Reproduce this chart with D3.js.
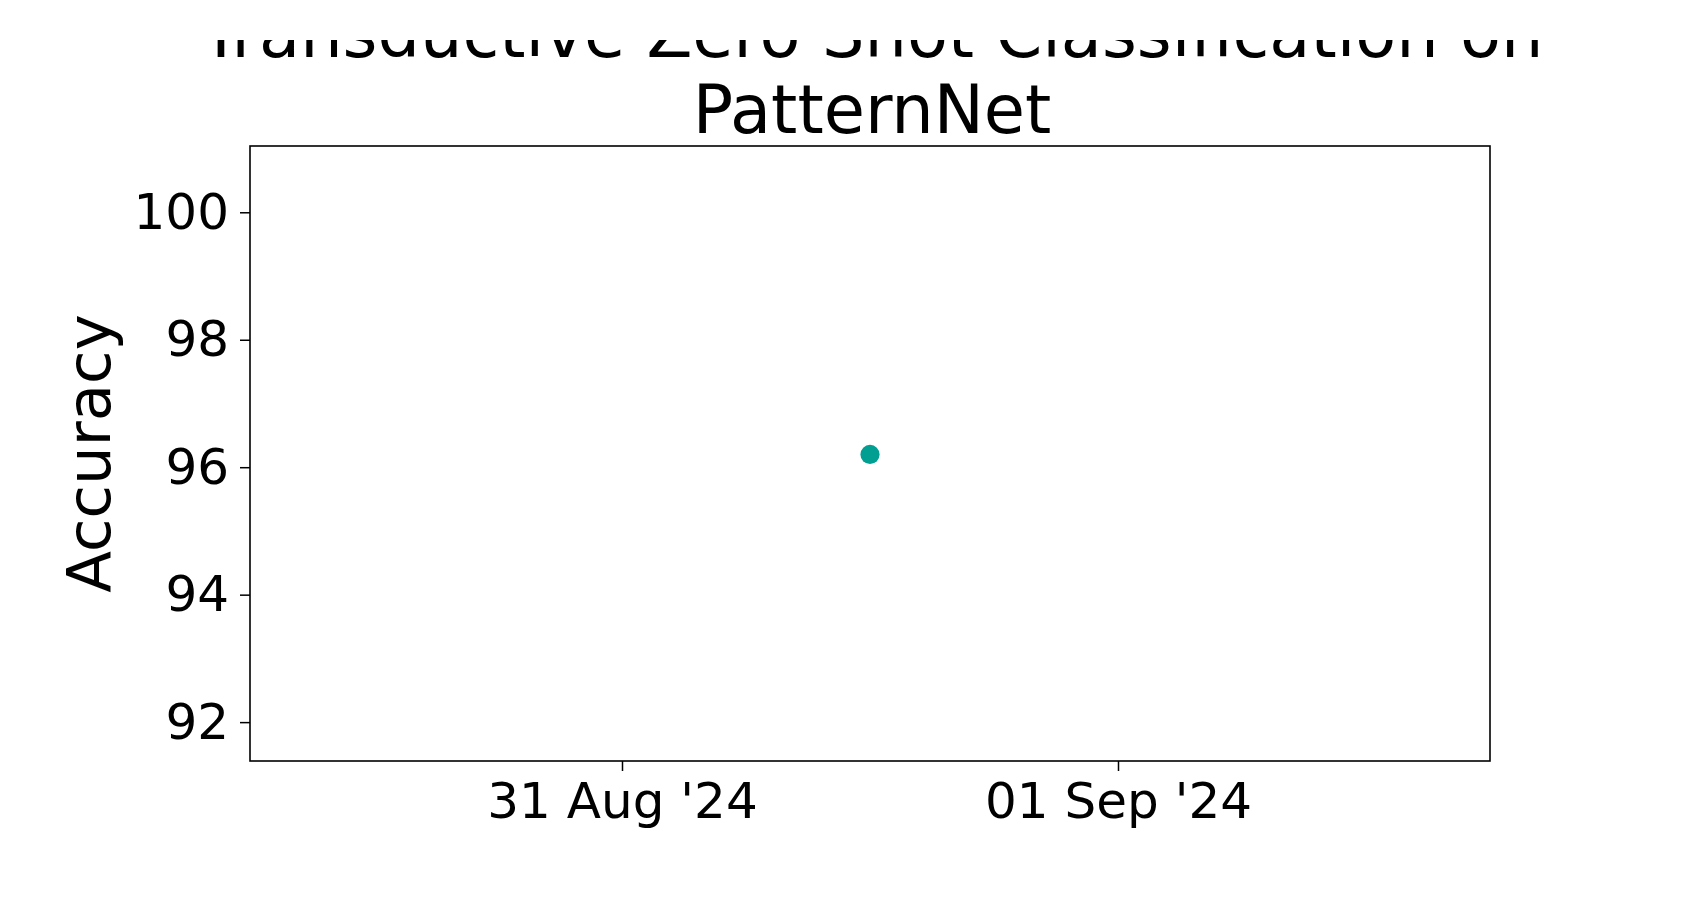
<!DOCTYPE html>
<html>
<head>
<meta charset="utf-8">
<script src="https://cdn.jsdelivr.net/npm/d3@7"></script>
<style>
  body { margin: 0; background: #fff; }
  text { font-family: "DejaVu Sans", sans-serif; fill: #000; }
</style>
</head>
<body>
<div id="chart"></div>
<script>
// data
const dates = ["2024-08-31T12:00:00Z"];
const accuracy = [96.2];
const yTicks = [92, 94, 96, 98, 100];
const xTicks = ["2024-08-31T00:00:00Z", "2024-09-01T00:00:00Z"];
const yDomain = [91.39, 101.04];
const titleLines = ["Transductive Zero Shot Classification on", "PatternNet"];

const width = 1700;
const height = 900;
const margin = ({top: 146, right: 210, bottom: 139, left: 250});

const points = dates.map((d, i) => ({date: new Date(d), value: accuracy[i]}));

const svg = d3.create('svg')
  .attr('width', width)
  .attr('height', height);

// x padded 1.25 days either side of the data
const day = 24 * 3600 * 1000;
const xExtent = d3.extent(points, d => d.date);
const xScale = d3.scaleUtc()
  .domain([new Date(+xExtent[0] - 1.25 * day), new Date(+xExtent[1] + 1.25 * day)])
  .range([margin.left, width - margin.right]);

const yScale = d3.scaleLinear()
  .domain(yDomain)
  .range([height - margin.bottom, margin.top]);

// x axis
const xAxis = svg.append('g')
  .attr('transform', `translate(0, ${height - margin.bottom})`)
  .call(d3.axisBottom(xScale)
    .tickValues(xTicks.map(d => new Date(d)))
    .tickFormat(d3.utcFormat("%d %b '%y"))
    .tickSize(10)
    .tickPadding(11));
xAxis.select('.domain').remove();
xAxis.selectAll('line').attr('stroke', '#000').attr('stroke-width', 1.5);
xAxis.selectAll('text').attr('font-size', '50px').attr('font-family', 'DejaVu Sans').attr('fill', '#000');

// y axis
const yAxis = svg.append('g')
  .attr('transform', `translate(${margin.left}, 0)`)
  .call(d3.axisLeft(yScale)
    .tickValues(yTicks)
    .tickSize(10)
    .tickPadding(11));
yAxis.select('.domain').remove();
yAxis.selectAll('line').attr('stroke', '#000').attr('stroke-width', 1.5);
yAxis.selectAll('text').attr('font-size', '50px').attr('font-family', 'DejaVu Sans').attr('fill', '#000');

// frame
svg.append('rect')
  .attr('x', margin.left)
  .attr('y', margin.top)
  .attr('width', width - margin.left - margin.right)
  .attr('height', height - margin.top - margin.bottom)
  .attr('fill', 'none')
  .attr('stroke', '#000')
  .attr('stroke-width', 1.6);

// points
svg.append('g')
  .selectAll('circle')
  .data(points)
  .join('circle')
  .attr('cx', d => xScale(d.date))
  .attr('cy', d => yScale(d.value))
  .attr('r', 9.6)
  .attr('fill', '#009f92');

// y label
svg.append('text')
  .attr('transform', `translate(110, ${(margin.top + height - margin.bottom) / 2}) rotate(-90)`)
  .attr('text-anchor', 'middle')
  .attr('font-size', '61px')
  .text('Accuracy');

// title, first line cut off at the top like the original
svg.append('clipPath')
  .attr('id', 'titleclip')
  .append('rect')
  .attr('x', 0).attr('y', 40).attr('width', width).attr('height', height);

const cx = (margin.left + width - margin.right) / 2;
svg.append('g')
  .attr('clip-path', 'url(#titleclip)')
  .selectAll('text')
  .data(titleLines)
  .join('text')
  .attr('x', cx + 2)
  .attr('y', (d, i) => 57 + i * 75.5)
  .attr('text-anchor', 'middle')
  .attr('font-size', '67px')
  .text(d => d);

document.getElementById('chart').appendChild(svg.node());
</script>
</body>
</html>
